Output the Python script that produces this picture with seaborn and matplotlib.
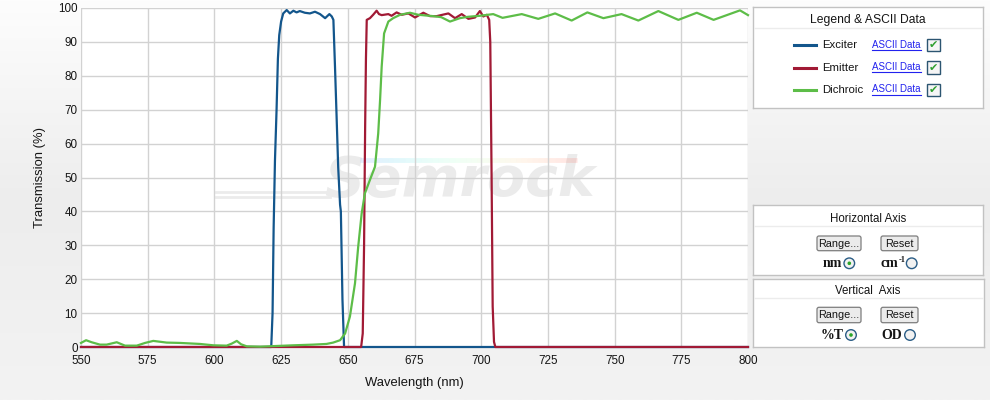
import numpy as np
import matplotlib
matplotlib.use("Agg")
import matplotlib.pyplot as plt
import seaborn as sns
from matplotlib.patches import FancyBboxPatch, Rectangle, Circle
from matplotlib.colors import LinearSegmentedColormap
from matplotlib.collections import LineCollection

# transmission spectra (wavelength nm, transmission %)
exciter_wl = [550, 621.3, 621.8, 622.2, 622.7, 623.3, 623.8, 624.3, 625.0, 625.8, 627.1, 628.3,
              629.6, 630.8, 632.0, 633.9, 635.8, 637.7, 639.6, 641.5, 643.1, 644.0, 644.6,
              645.2, 645.8, 646.4, 647.1, 647.4, 648.0, 648.6, 800]
exciter_t = [0, 0, 10, 35, 55, 70, 85, 92, 96, 98.4, 99.4, 98.4,
             99.2, 98.7, 99.1, 98.6, 98.4, 98.9, 98.2, 97.0, 98.2, 97.5, 96.5,
             82.7, 68, 53, 42, 40, 14, 0, 0]

emitter_wl = [550, 655.0, 655.6, 656.1, 656.5, 656.8, 657.1, 658.3, 659.5, 660.8, 661.7, 662.7,
              665.2, 666.4, 668.3, 670.2, 672.7, 675.2, 678.3, 680.8, 683.3, 687.7, 690.2,
              692.7, 695.2, 697.7, 699.5, 700.8, 702.1, 703.0, 703.4, 703.9, 704.3, 704.8,
              705.3, 800]
emitter_t = [0, 0, 4, 30, 65, 85, 96.5, 97, 98, 99.2, 98.2, 97.9,
             98.2, 97.7, 98.7, 98, 98.4, 97.2, 98.6, 97.6, 97.6, 98.4, 97.0,
             98.2, 96.8, 97.2, 99.1, 97.5, 98, 96.5, 90, 50, 12, 1.5,
             0, 0]

dichroic_wl = [550, 551.9, 554, 557.1, 559.6, 563.4, 566.5, 570.9, 574, 577.1, 582.1, 587.1,
               594.6, 599.6, 604.6, 606.5, 608.4, 610, 612.1, 617.1, 629.6, 637, 642, 644.5,
               647.1, 649.0, 650.8, 652.7, 653.9, 655.2, 656.4, 658.3, 660.2, 661.4, 662.1,
               662.7, 663.6, 665.2, 667.0, 669.6, 673.3, 676.4, 682, 685, 688.3, 692, 695,
               699.5, 704.5, 708, 715.2, 721.4, 727.7, 733.9, 739.8, 745.8, 752.6, 758.9,
               766.4, 773.9, 780.8, 787.1, 797, 800]
dichroic_t = [1.2, 2.0, 1.4, 0.7, 0.7, 1.4, 0.4, 0.4, 1.2, 1.8, 1.3, 1.2,
              0.9, 0.5, 0.4, 1.0, 1.8, 0.8, 0.2, 0.1, 0.5, 0.7, 0.9, 1.3,
              2.0, 4.0, 9.0, 18.8, 29.6, 39.4, 45.3, 49.3, 53.2, 63, 72.9,
              82.7, 92.5, 96, 97, 98, 98.6, 98, 97.6, 97.3, 96, 97, 97.4,
              97.7, 98.2, 97.1, 98.2, 96.8, 98.4, 96.3, 98.7, 97.0, 98.2, 96.3,
              99.1, 96.5, 98.6, 96.5, 99.3, 97.9]

series_names = ["Exciter", "Emitter", "Dichroic"]
series_colors = ["#13568c", "#a11a35", "#5dbd48"]

x_ticks = list(range(550, 801, 25))
y_ticks = list(range(0, 101, 10))

W, H = 990, 400
plt.rcParams['font.family'] = ['Liberation Sans', 'DejaVu Sans']
txt = '#151515'

fig = plt.figure(figsize=(W / 100, H / 100), dpi=100)

# page background gradient
bg = fig.add_axes([0, 0, 1, 1], zorder=-10)
grad = np.linspace(0, 1, 256).reshape(-1, 1)
bg.imshow(grad, aspect='auto', extent=[0, 1, 0, 1], interpolation='bilinear',
          cmap=LinearSegmentedColormap.from_list('bg', ['#fdfdfd', '#ededed', '#f3f3f3']))
bg.axis('off')

ax = fig.add_axes([81 / W, 1 - 347 / H, 667 / W, 339 / H])
ax.set_facecolor('white')

# watermark
def afx(px, py):
    return (px - 81) / 667, (347 - py) / 339

wx, wy = afx(460, 181)
ax.text(wx, wy, 'Semrock', transform=ax.transAxes, family='DejaVu Sans', fontsize=40,
        fontweight='bold', fontstyle='italic', color='#ebebeb', ha='center', va='center', zorder=0)
for py in (191.5, 196.5):
    (x0, y0), (x1, y1) = afx(216, py), afx(330, py)
    ax.plot([x0, x1], [y0, y1], transform=ax.transAxes, color='#ebebeb', lw=2, zorder=0)
rx = np.linspace(360, 577, 40)
pts = np.array([afx(p, 159.5) for p in rx])
segs = np.stack([pts[:-1], pts[1:]], axis=1)
rain = plt.get_cmap('rainbow')(np.linspace(0.15, 0.95, len(segs)))
rain[:, 3] = 0.12
ax.add_collection(LineCollection(segs, colors=rain, linewidths=3.5, transform=ax.transAxes, zorder=0))

for wl, t, c in zip([exciter_wl, emitter_wl, dichroic_wl],
                    [exciter_t, emitter_t, dichroic_t], series_colors):
    sns.lineplot(x=wl, y=t, color=c, linewidth=1.6, ax=ax, clip_on=False, zorder=3)

ax.set_xlim(550, 800)
ax.set_ylim(0, 100)
ax.set_xticks(x_ticks)
ax.set_yticks(y_ticks)
ax.grid(True, color='#d2d2d2', linewidth=1)
ax.set_axisbelow(True)
for s in ax.spines.values():
    s.set_visible(False)
ax.tick_params(length=0, labelsize=8.4, colors=txt)
ax.tick_params(axis='x', pad=6)
ax.tick_params(axis='y', pad=2.5)
ax.set_xlabel('Wavelength (nm)', fontsize=9.4, color=txt, labelpad=7)
ax.set_ylabel('Transmission (%)', fontsize=9.4, color=txt, labelpad=9)


def panel(x0, y0, x1, y1):
    a = fig.add_axes([x0 / W, 1 - y1 / H, (x1 - x0) / W, (y1 - y0) / H])
    a.set_xlim(x0, x1)
    a.set_ylim(y1, y0)
    a.set_xticks([])
    a.set_yticks([])
    a.set_facecolor('white')
    for s in a.spines.values():
        s.set_color('#c2c2c2')
        s.set_linewidth(1)
    return a


def button(a, x0, y0, x1, y1, label):
    a.add_patch(FancyBboxPatch((x0, y0), x1 - x0, y1 - y0, boxstyle='round,pad=0,rounding_size=2',
                               fc='#ebebeb', ec='#7d7d7d', lw=0.9))
    a.text((x0 + x1) / 2, (y0 + y1) / 2 + 0.5, label, fontsize=7.8, color=txt, ha='center', va='center')


def radio(a, cx, cy, on):
    a.add_patch(Circle((cx, cy), 5.3, fc='#f2f2f2', ec='#2b5d86', lw=1))
    if on:
        a.add_patch(Circle((cx, cy), 1.8, fc='#2aa52a', ec='none'))


# legend panel
lp = panel(753, 7, 983, 108)
lp.text(868, 20.5, 'Legend & ASCII Data', fontsize=8.7, color=txt, ha='center', va='center')
lp.plot([755, 981], [28, 28], color='#ececec', lw=1)
for name, c, ry in zip(series_names, series_colors, [45, 67.7, 90]):
    lp.plot([794, 816], [ry, ry], color=c, lw=2.2)
    lp.text(822, ry, name, fontsize=8.2, color=txt, ha='left', va='center')
    lp.text(872, ry - 0.5, 'ASCII Data', fontsize=7, color='#2222ee', ha='left', va='center')
    lp.plot([872, 920.5], [ry + 4.5, ry + 4.5], color='#2222ee', lw=0.8)
    lp.add_patch(Rectangle((927, ry - 6.3), 12.6, 12.6, fc='#f5f5f5', ec='#2c5571', lw=1))
    lp.text(933.3, ry + 0.3, '\u2714', family='DejaVu Sans', fontsize=8, color='#2f9f2f',
            ha='center', va='center')

# horizontal axis panel
hp = panel(753, 205, 983, 275)
hp.text(868, 219, 'Horizontal Axis', fontsize=8.3, color=txt, ha='center', va='center')
hp.plot([755, 981], [226, 226], color='#ececec', lw=1)
button(hp, 817, 236, 861, 250.7, 'Range...')
button(hp, 881, 236, 918, 250.7, 'Reset')
hp.text(842, 263.5, 'nm', family='Liberation Serif', fontweight='bold', fontsize=10,
        color=txt, ha='right', va='center')
radio(hp, 849.3, 263.3, True)
hp.text(898, 263.5, 'cm', family='Liberation Serif', fontweight='bold', fontsize=10,
        color=txt, ha='right', va='center')
hp.text(898.3, 259.5, '-1', family='Liberation Serif', fontweight='bold', fontsize=6,
        color=txt, ha='left', va='center')
radio(hp, 911.7, 263.3, False)

# vertical axis panel
vp = panel(753, 279, 984, 347)
vp.text(868, 290.7, 'Vertical  Axis', fontsize=8.3, color=txt, ha='center', va='center')
vp.plot([755, 982], [298, 298], color='#ececec', lw=1)
button(vp, 817, 307.3, 861, 322.7, 'Range...')
button(vp, 881, 307.3, 918, 322.7, 'Reset')
vp.text(844, 335.3, '%T', family='Liberation Serif', fontweight='bold', fontsize=10,
        color=txt, ha='right', va='center')
radio(vp, 851, 335, True)
vp.text(902, 335.3, 'OD', family='Liberation Serif', fontweight='bold', fontsize=10,
        color=txt, ha='right', va='center')
radio(vp, 910, 335, False)

fig.savefig('out.png', dpi=100)
